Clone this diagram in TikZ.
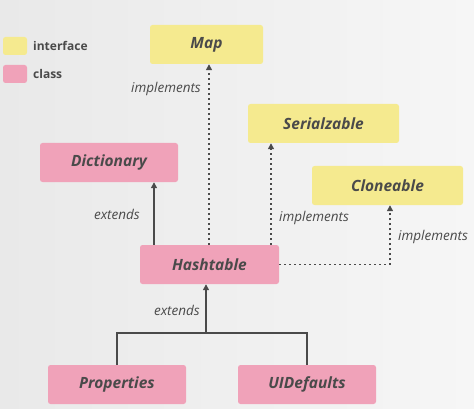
\documentclass[tikz,border=0pt]{standalone}
\usepackage{fontspec}
\setmainfont{Open Sans}
\usetikzlibrary{arrows.meta}
\definecolor{ifc}{HTML}{F5EA8F}
\definecolor{cls}{HTML}{F0A2B9}
\definecolor{ink}{HTML}{4A4A4A}
\definecolor{bgl}{HTML}{E9E9E9}
\definecolor{bgr}{HTML}{F6F6F6}
\tikzset{
  box/.style={minimum width=138pt, minimum height=39pt, rounded corners=2.5pt, inner sep=0pt,
    font=\fontsize{15.5}{18}\selectfont\bfseries\itshape, text=ink},
  ibox/.style={box, fill=ifc},
  cbox/.style={box, fill=cls},
  lab/.style={font=\fontsize{13.5}{16}\selectfont\itshape, text=ink, inner sep=0pt},
  leg/.style={font=\fontsize{12}{14}\selectfont\bfseries, text=ink, inner sep=0pt, anchor=west},
  solidarrow/.style={draw=ink, line width=1.4pt, -{Triangle[length=6pt,width=6pt]}},
  dotarrow/.style={draw=ink, line width=1.4pt, dash pattern=on 2pt off 3pt, -{Triangle[length=6pt,width=6pt]}},
  solidline/.style={draw=ink, line width=1.4pt},
}
\begin{document}
\begin{tikzpicture}[x=1pt,y=-1pt]
\useasboundingbox (0,0) rectangle (474,409);
\shade[left color=bgl, right color=bgr] (0,0) rectangle (474,409);
% legend
\node[fill=ifc, rounded corners=2.5pt, minimum width=24pt, minimum height=18pt, inner sep=0pt] (legi) at (15,46) {};
\node[fill=cls, rounded corners=2.5pt, minimum width=24pt, minimum height=18pt, inner sep=0pt] (legc) at (15,74) {};
\node[leg] (legit) at (33,46) {interface};
\node[leg] (legct) at (33,74) {class};
% nodes
\node[ibox, minimum width=113pt] (map) at (206.5,44.5) {Map};
\node[ibox, minimum width=151pt] (ser) at (323.5,123.5) {Serialzable};
\node[ibox, minimum width=151pt] (clo) at (387.5,185.5) {Cloneable};
\node[cbox] (dic) at (109,162.5) {Dictionary};
\node[cbox, minimum width=139pt] (has) at (209.5,264.5) {Hashtable};
\node[cbox] (pro) at (117,384.5) {Properties};
\node[cbox] (uid) at (307,384.5) {UIDefaults};
% connectors
\coordinate (mapb) at (209,245);
\draw[dotarrow] (has.north -| mapb) -- (map.south -| mapb);
\node[lab, anchor=east] (l1) at (201,89) {implements};
\coordinate (serb) at (271,245);
\draw[dotarrow] (has.north -| serb) -- (ser.south -| serb);
\node[lab, anchor=west] (l2) at (279,218) {implements};
\coordinate (clob) at (390,207);
\draw[dotarrow] (has.east) -- (has.east -| clob) -- (clo.south -| clob);
\node[lab, anchor=west] (l3) at (398,237) {implements};
\coordinate (dicb) at (154,245);
\draw[solidarrow] (has.north -| dicb) -- (dic.south -| dicb);
\node[lab, anchor=east] (l4) at (140,214) {extends};
\coordinate (junc) at (206,333);
\draw[solidline] (pro.north) |- (junc) -| (uid.north);
\draw[solidarrow] (junc) -- (has.south -| junc);
\node[lab, anchor=east] (l5) at (200,310) {extends};
\end{tikzpicture}
\end{document}
